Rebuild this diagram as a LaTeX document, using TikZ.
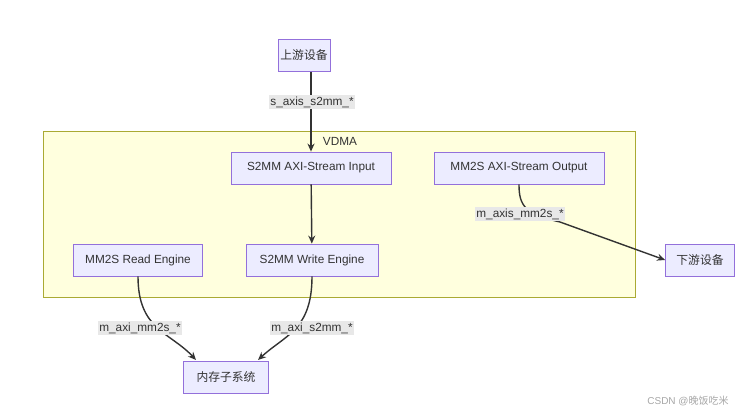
\documentclass[tikz,border=0pt]{standalone}
\usepackage{fontspec}
\setmainfont{Liberation Sans}
\newfontfamily\cjk{Noto Sans CJK SC}
\usetikzlibrary{arrows.meta}
\definecolor{nfill}{HTML}{ECECFF}
\definecolor{nbord}{HTML}{9370DB}
\definecolor{cfill}{HTML}{FFFFDE}
\definecolor{cbord}{HTML}{AAAA33}
\definecolor{lbg}{HTML}{E8E8E8}
\definecolor{edge}{HTML}{333333}
\begin{document}
\begin{tikzpicture}[x=1pt,y=-1pt,
  box/.style={draw=nbord,fill=nfill,line width=0.8pt,minimum height=32pt,inner xsep=2pt,font=\fontsize{11.8}{14}\selectfont,text=edge},
  lab/.style={fill=lbg,inner sep=1.5pt,font=\fontsize{11.8}{14}\selectfont,text=edge},
  arr/.style={draw=edge,line width=1.4pt,-{Stealth[length=8pt,width=7pt]}}]
\useasboundingbox (0,0) rectangle (748,415);
\node[draw=cbord,fill=cfill,line width=0.8pt,minimum width=592pt,minimum height=166pt] (vdma) at (339,214) {};
\node[font=\fontsize{11.8}{14}\selectfont,text=edge] (vt) at (340,141) {VDMA};
\node[box,minimum width=52pt] (up) at (304,55.5) {\cjk 上游设备};
\node[box,minimum width=160pt] (sin) at (311,168) {S2MM AXI-Stream Input};
\node[box,minimum width=170pt] (mout) at (519,168) {MM2S AXI-Stream Output};
\node[box,minimum width=129pt] (rd) at (138,260) {MM2S Read Engine};
\node[box,minimum width=132pt] (wr) at (312,260) {S2MM Write Engine};
\node[box,minimum width=69pt] (down) at (700,260) {\cjk 下游设备};
\node[box,minimum width=85pt] (mem) at (226,377) {\cjk 内存子系统};
\draw[arr] (up.south -| sin.north) -- (sin.north);
\node[lab] (l1) at (312,102) {s\_axis\_s2mm\_*};
\draw[arr] (sin) -- (wr);
\draw[arr] (mout.south) .. controls (519,206) and (525,214) .. (560,222) -- (down.west);
\node[lab] (l2) at (520,214) {m\_axis\_mm2s\_*};
\draw[arr] (rd.south) .. controls (138,330) and (170,332) .. (196,360);
\node[lab] (l3) at (140,328) {m\_axi\_mm2s\_*};
\draw[arr] (wr.south) .. controls (312,330) and (285,335) .. (258,360);
\node[lab] (l4) at (312,328) {m\_axi\_s2mm\_*};
\node[font=\fontsize{10}{12}\selectfont,text=gray!70] (wm) at (688,401) {CSDN @{\cjk 晚饭吃米}};
\end{tikzpicture}
\end{document}
